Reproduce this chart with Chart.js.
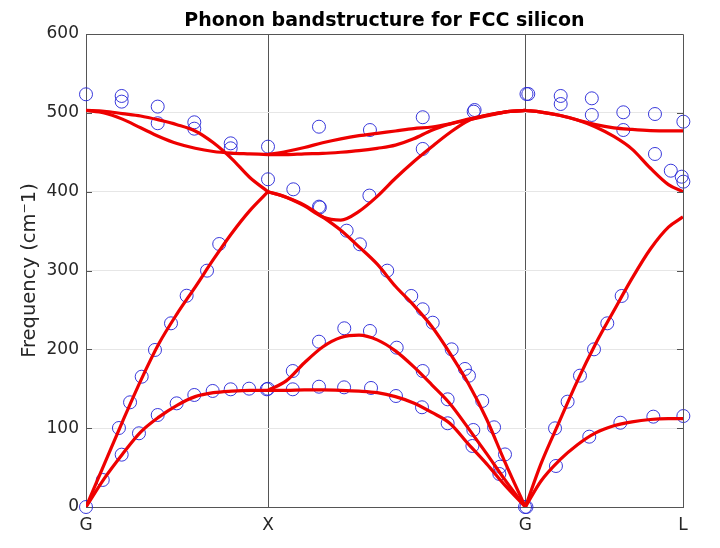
<!DOCTYPE html>
<html lang="en">
<head>
    <meta charset="UTF-8">
    <title>Phonon bandstructure for FCC silicon</title>
    <script src="https://cdn.jsdelivr.net/npm/chart.js"></script>
    <style>
        body { margin: 0; background: #fff; }
    </style>
</head>
<body>
    <canvas id="bandChart" width="720" height="548"></canvas>

    <script>
        // Path positions: G=0, X=1, G=1+sqrt(2), L=G+sqrt(3)/2
        const tickPos = [0, 1, 2.414, 3.28];
        const tickLabels = ['G', 'X', 'G', 'L'];

        // Calculated bands, G -> X
        const gxPos = [0, 0.1, 0.2, 0.3, 0.4, 0.5, 0.6, 0.7, 0.8, 0.9, 1.0];
        const gxTA = [0, 36, 67, 95, 114, 129, 140, 145, 147, 148, 148];
        const gxLA = [0, 54, 108, 160, 207, 245, 279, 314, 347, 376, 400];
        const gxTO = [503, 500, 492, 481, 470, 461, 455, 451, 449, 448, 447];
        const gxLO = [503, 502, 499, 496, 491, 485, 477, 462, 442, 418, 400];

        // X -> G
        const xgPos = [1.0, 1.1, 1.2, 1.3, 1.4, 1.5, 1.6, 1.7, 1.8, 1.9, 2.0, 2.1, 2.2, 2.3, 2.414];
        const xgTA1 = [148, 148, 148.5, 148.5, 148, 147, 145, 140, 132, 120, 106, 80, 55, 28, 0];
        const xgTA2 = [148, 160, 183, 203, 215, 218, 212, 198, 178, 155, 131, 100, 68, 35, 0];
        const xgLA = [400, 393, 383, 368, 351, 330, 308, 280, 256, 229, 195, 157, 112, 58, 0];
        const xgOP = [400, 393, 382, 368, 364, 375, 394, 417, 438, 457, 475, 490, 497, 501, 503];
        const xgTO1 = [447, 451, 456, 462, 467, 471, 474, 477, 480, 482, 486, 491, 496, 501, 503];
        const xgTO2 = [447, 447, 448, 448.5, 450, 452, 455, 459, 467, 478, 486, 492, 497, 501, 503];

        // G -> L
        const glPos = [2.414, 2.5, 2.6, 2.7, 2.8, 2.9, 3.0, 3.1, 3.2, 3.28];
        const glTA = [0, 33, 59, 79, 94, 103, 108, 111, 112, 112];
        const glLA = [0, 55, 108, 160, 207, 249, 290, 327, 355, 368];
        const glTO = [503, 501, 497, 491, 485, 481, 479, 477.5, 477, 477];
        const glLO = [503, 501, 497, 491, 482, 470, 454, 430, 409, 400];

        // Measured points
        const expQ = [
            0, 0.196, 0.196, 0.394, 0.394, 0.595, 0.595, 0.795, 0.795, 1.0, 1.0,
            1.28, 1.56, 1.85, 1.85, 2.13, 2.135,
            1.139, 1.28, 1.285, 1.557,
            1.432, 1.505, 1.655, 1.787, 1.85, 1.905, 2.009, 2.082, 2.104, 2.177, 2.242, 2.302, 2.275, 2.271,
            1.136, 1.136, 1.28, 1.28, 1.419, 1.418, 1.56, 1.566, 1.707, 1.703, 1.85, 1.846, 1.987, 1.987, 2.128, 2.123,
            2.412, 2.42,
            2.582, 2.577, 2.646, 2.714, 2.791, 2.864, 2.943, 2.765, 2.936, 3.117, 3.282,
            2.42, 2.43, 2.608, 2.608, 2.779, 2.779, 2.952, 2.952, 3.126, 3.126, 3.213, 3.273, 3.282, 3.282,
            0, 0.092, 0.196, 0.181, 0.242, 0.306, 0.379, 0.467, 0.553, 0.665, 0.732,
            0.291, 0.394, 0.498, 0.595, 0.696, 0.795, 0.896, 0.993, 1.0
        ];
        const expFreq = [
            523.5, 521.4, 514.2, 507.9, 486.8, 488.0, 479.9, 461.3, 455.0, 457.1, 415.7,
            482.4, 478.2, 494.4, 454.2, 501.5, 503.6,
            403.0, 381, 380, 395,
            350.5, 333.2, 299.8, 267.7, 250.8, 233.8, 200.0, 175.1, 166.6, 134.5, 101.1, 66.7, 51.1, 41.9,
            172.5, 149.3, 209.7, 152.6, 226.7, 151.8, 223.3, 151.0, 202.1, 140.8, 172.5, 126.5, 136.6, 106.2, 97.7, 77.4,
            0, 0,
            52.0, 99.8, 133.6, 166.6, 200.0, 233.0, 267.7, 89.2, 106.9, 114.6, 115.4,
            523.9, 523.9, 521.4, 511.2, 518.4, 497.3, 500.7, 478.2, 498.5, 447.8, 426.6, 419.0, 412.7, 488.8,
            0, 34.3, 66.4, 100.2, 132.8, 165.3, 199.2, 233.0, 268.0, 299.8, 333.6,
            93.5, 116.7, 131.5, 142.1, 147.2, 149.3, 150.1, 149.3, 150
        ];

        const bands = [
            [gxPos, gxTA], [gxPos, gxLA], [gxPos, gxTO], [gxPos, gxLO],
            [xgPos, xgTA1], [xgPos, xgTA2], [xgPos, xgLA], [xgPos, xgOP], [xgPos, xgTO1], [xgPos, xgTO2],
            [glPos, glTA], [glPos, glLA], [glPos, glTO], [glPos, glLO]
        ];

        const datasets = [{
            data: expQ.map((q, i) => ({ x: q, y: expFreq[i] })),
            showLine: false,
            pointStyle: 'circle',
            pointRadius: 6.5,
            pointBorderWidth: 1,
            pointBorderColor: 'rgba(35, 35, 215, 0.9)',
            pointBackgroundColor: 'rgba(0,0,0,0)',
            clip: false,
            order: 1
        }];
        bands.forEach(([pos, vals]) => {
            datasets.push({
                data: pos.map((q, i) => ({ x: q, y: vals[i] })),
                showLine: true,
                borderColor: 'rgb(238, 0, 0)',
                borderWidth: 3.2,
                pointRadius: 0,
                cubicInterpolationMode: 'monotone',
                fill: false,
                order: 0
            });
        });

        // box around the axes + inward ticks, like matlab
        const framePlugin = {
            id: 'frame',
            afterDraw(chart) {
                const { ctx, chartArea: a, scales: { y } } = chart;
                ctx.save();
                ctx.strokeStyle = '#555';
                ctx.lineWidth = 1;
                ctx.beginPath();
                ctx.moveTo(a.left + 0.5, a.top + 0.5);
                ctx.lineTo(a.right + 0.5, a.top + 0.5);
                ctx.lineTo(a.right + 0.5, a.bottom + 0.5);
                y.ticks.forEach(t => {
                    const py = Math.round(y.getPixelForValue(t.value)) + 0.5;
                    ctx.moveTo(a.left, py);
                    ctx.lineTo(a.left + 6, py);
                    ctx.moveTo(a.right - 6, py);
                    ctx.lineTo(a.right, py);
                });
                ctx.stroke();

                // title centred over the axes
                ctx.fillStyle = '#000';
                ctx.font = 'bold 19px "DejaVu Sans"';
                ctx.textAlign = 'center';
                ctx.textBaseline = 'alphabetic';
                ctx.fillText('Phonon bandstructure for FCC silicon', (a.left + a.right) / 2, 26);
                ctx.restore();
            }
        };

        const font = { family: 'DejaVu Sans', size: 17 };

        new Chart(document.getElementById('bandChart'), {
            type: 'scatter',
            data: { datasets: datasets },
            options: {
                responsive: false,
                animation: false,
                layout: { padding: { left: 0, right: 37, top: 34, bottom: 0 } },
                plugins: {
                    legend: { display: false },
                    tooltip: { enabled: false },
                    title: { display: false }
                },
                scales: {
                    x: {
                        type: 'linear',
                        min: 0,
                        max: 3.28,
                        afterBuildTicks: scale => {
                            scale.ticks = tickPos.map(v => ({ value: v }));
                        },
                        afterFit: scale => { scale.height = 41; },
                        ticks: {
                            autoSkip: false,
                            maxRotation: 0,
                            color: '#262626',
                            font: font,
                            padding: 8,
                            callback: v => {
                                const i = tickPos.indexOf(v);
                                return i >= 0 ? tickLabels[i] : '';
                            }
                        },
                        grid: {
                            drawTicks: false,
                            color: c => (c.index === 1 || c.index === 2) ? '#555' : 'rgba(0,0,0,0)'
                        },
                        border: { color: '#555' }
                    },
                    y: {
                        min: 0,
                        max: 600,
                        afterFit: scale => { scale.width = 86; },
                        ticks: {
                            stepSize: 100,
                            color: '#262626',
                            font: font,
                            padding: 7
                        },
                        grid: {
                            drawTicks: false,
                            color: '#e6e6e6'
                        },
                        border: { color: '#555' },
                        title: {
                            display: true,
                            text: 'Frequency (cm\u207B1)',
                            color: '#262626',
                            font: { family: 'DejaVu Sans', size: 19.5 },
                            padding: { top: 18, bottom: 0 }
                        }
                    }
                }
            },
            plugins: [framePlugin]
        });
    </script>
</body>
</html>
